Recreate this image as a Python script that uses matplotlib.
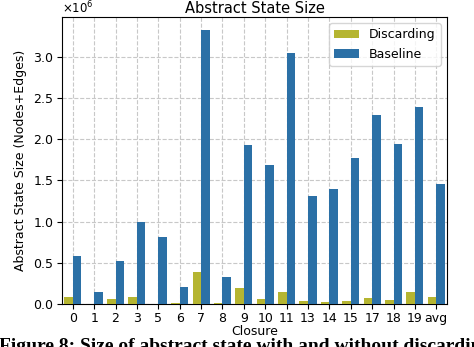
import matplotlib
matplotlib.use("Agg")
import matplotlib.pyplot as plt
import numpy as np

categories = ["0", "1", "2", "3", "5", "6", "7", "8", "9", "10", "11", "13", "14", "15", "17", "18", "19", "avg"]
discarding = [0.08, 0.0, 0.06, 0.085, 0.0, 0.01, 0.39, 0.01, 0.19, 0.055, 0.145, 0.03, 0.025, 0.04, 0.075, 0.045, 0.14, 0.085]
baseline = [0.58, 0.15, 0.52, 1.00, 0.81, 0.20, 3.32, 0.33, 1.93, 1.69, 3.04, 1.31, 1.40, 1.77, 2.29, 1.94, 2.39, 1.45]

scale = 1e6
disc = np.array(discarding) * scale
base = np.array(baseline) * scale

fig = plt.figure(figsize=(4.74, 3.47), dpi=100)
ax = fig.add_axes([0.131, 0.124, 0.812, 0.827])
x = np.arange(len(categories))
w = 0.4
ax.bar(x - w / 2, disc, w, color="#b5b531", label="Discarding", zorder=3)
ax.bar(x + w / 2, base, w, color="#2b70a6", label="Baseline", zorder=3)
ax.set_xticks(x)
ax.set_xticklabels(categories, fontsize=9)
ax.tick_params(axis="both", labelsize=9, pad=2.5)
ax.set_xlim(-0.5, len(categories) - 0.5)
ax.set_ylim(0, 3.48e6)
ax.ticklabel_format(axis="y", style="sci", scilimits=(6, 6), useMathText=True)
ax.yaxis.get_offset_text().set_fontsize(8.5)
ax.grid(True, linestyle="--", color="#c8c8c8", linewidth=0.8, zorder=0)
ax.set_xlabel("Closure", fontsize=9, labelpad=0)
ax.set_ylabel("Abstract State Size (Nodes+Edges)", fontsize=9)
ax.set_title("Abstract State Size", fontsize=10.5, pad=3)
ax.legend(loc="upper right", fontsize=9)
fig.text(-0.002, -0.012, "Figure 8: Size of abstract state with and without discarding",
         fontsize=14, fontweight="bold", family="Liberation Serif", va="baseline", ha="left")
fig.savefig("out.png", dpi=100)
